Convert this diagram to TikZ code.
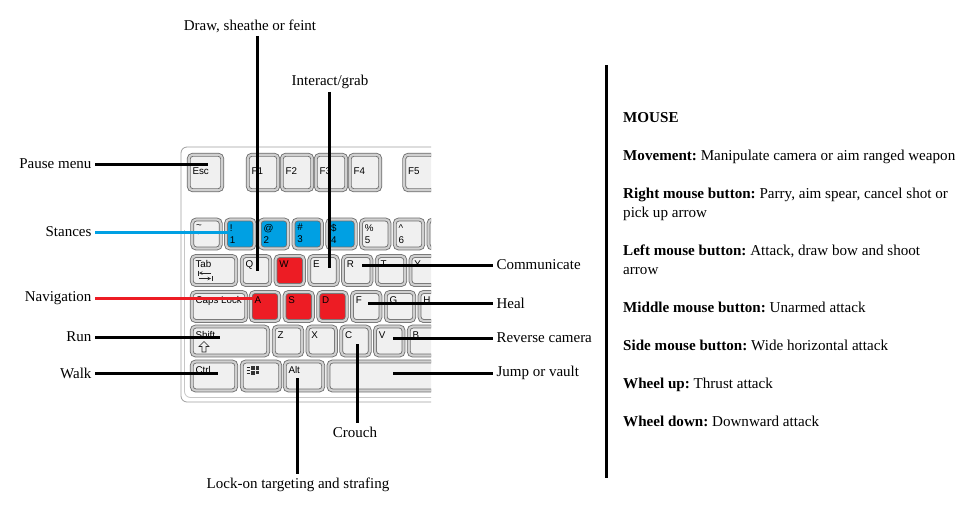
\documentclass[tikz,border=0pt]{standalone}
\usepackage{fontspec}
\setmainfont{Liberation Serif}
\newfontfamily\keyfont{Liberation Sans}
\usepackage{tikz}
\usetikzlibrary{shapes,arrows,positioning}
\frenchspacing

\definecolor{KeyBlue}{RGB}{0,160,227}
\definecolor{KeyRed}{RGB}{237,28,36}
\definecolor{KeyFace}{RGB}{240,240,240}
\definecolor{KeyEdge}{RGB}{110,110,110}
\definecolor{KeyBand}{RGB}{208,208,208}

\begin{document}
\begin{tikzpicture}[x=1pt, y=-1pt]
		\tikzstyle{Key}		= [rectangle, rounded corners=4pt, draw=KeyEdge, line width=0.85pt, double=KeyBand, double distance=2.1pt, fill=KeyFace, inner sep=0pt, minimum width=28.5pt, minimum height=29pt]
		\tikzstyle{Move}	= [fill=KeyRed]
		\tikzstyle{Stance}	= [fill=KeyBlue]
		\tikzstyle{KeyText}	= [anchor=north west, xshift=4pt, yshift=-5pt, inner sep=0pt, align=left, font=\keyfont\fontsize{9.8}{12}\selectfont]
		\tikzstyle{Low}		= [yshift=-8pt]
		\tikzstyle{Glyph}	= [line width=0.6pt, black!85]
		\tikzstyle{Frame}	= [draw=gray!75, line width=0.8pt, rounded corners=6pt]
		\tikzstyle{Callout}	= [line width=3pt, black]
		\tikzstyle{Label}	= [font=\fontsize{15}{19}\selectfont]
		\tikzstyle{Mouse}	= [anchor=base west, inner sep=0pt, font=\fontsize{15.1}{19}\selectfont]

		\useasboundingbox[fill=white] (0,0) rectangle (974,515);

		% keyboard, cut off on the right
		\begin{scope}
		\clip (170,140) rectangle (431,410);
		\draw[Frame] (181,147) rectangle (480,402);
		\draw[Frame, draw=gray!45] (184.5,230) |- (480,397.5);

		\node (kEsc) at (205.5, 172.5) [Key, minimum width=33.5pt, minimum height=35.5pt, label={[KeyText, Low]north west:Esc}] {};
		\node (kF1) at (263, 172.5) [Key, minimum width=30.5pt, minimum height=35.5pt, label={[KeyText, Low]north west:F1}] {};
		\node (kF2) at (297, 172.5) [Key, minimum width=30.5pt, minimum height=35.5pt, label={[KeyText, Low]north west:F2}] {};
		\node (kF3) at (331, 172.5) [Key, minimum width=30.5pt, minimum height=35.5pt, label={[KeyText, Low]north west:F3}] {};
		\node (kF4) at (365, 172.5) [Key, minimum width=30.5pt, minimum height=35.5pt, label={[KeyText, Low]north west:F4}] {};
		\node (kF5) at (419.5, 172.5) [Key, minimum width=30.5pt, minimum height=35.5pt, label={[KeyText, Low]north west:F5}] {};

		\node (kTilde) at (206.5, 234) [Key, label={[KeyText]north west:\textasciitilde\\\textasciigrave}] {};
		\node (k1) at (240.25, 234) [Key][Stance, label={[KeyText]north west:!\\1}] {};
		\node (k2) at (274, 234) [Key][Stance, label={[KeyText]north west:@\\2}] {};
		\node (k3) at (307.75, 234) [Key][Stance, label={[KeyText]north west:\#\\3}] {};
		\node (k4) at (341.5, 234) [Key][Stance, label={[KeyText]north west:\$\\4}] {};
		\node (k5) at (375.25, 234) [Key, label={[KeyText]north west:\%\\5}] {};
		\node (k6) at (409, 234) [Key, label={[KeyText]north west:\textasciicircum\\6}] {};
		\node (k7) at (442.75, 234) [Key] {};

		\node (kTab) at (214, 270.5) [Key, minimum width=44.5pt, label={[KeyText]north west:Tab}] {};
		\node (kQ) at (256, 270.5) [Key, label={[KeyText]north west:Q}] {};
		\node (kW) at (289.75, 270.5) [Key][Move, label={[KeyText]north west:W}] {};
		\node (kE) at (323.5, 270.5) [Key, label={[KeyText]north west:E}] {};
		\node (kR) at (357.25, 270.5) [Key, label={[KeyText]north west:R}] {};
		\node (kT) at (391, 270.5) [Key, label={[KeyText]north west:T}] {};
		\node (kY) at (424.75, 270.5) [Key, label={[KeyText]north west:Y}] {};

		\node (kCaps) at (219, 306.5) [Key, minimum width=54.5pt, label={[KeyText]north west:Caps Lock}] {};
		\node (kA) at (265, 306.5) [Key][Move, label={[KeyText]north west:A}] {};
		\node (kS) at (298.75, 306.5) [Key][Move, label={[KeyText]north west:S}] {};
		\node (kD) at (332.5, 306.5) [Key][Move, label={[KeyText]north west:D}] {};
		\node (kF) at (366.25, 306.5) [Key, label={[KeyText]north west:F}] {};
		\node (kG) at (400, 306.5) [Key, label={[KeyText]north west:G}] {};
		\node (kH) at (433.75, 306.5) [Key, label={[KeyText]north west:H}] {};

		\node (kShift) at (230, 341) [Key, minimum width=76.5pt, label={[KeyText]north west:Shift}] {};
		\node (kZ) at (288, 341) [Key, label={[KeyText]north west:Z}] {};
		\node (kX) at (321.75, 341) [Key, label={[KeyText]north west:X}] {};
		\node (kC) at (355.5, 341) [Key, label={[KeyText]north west:C}] {};
		\node (kV) at (389.25, 341) [Key, label={[KeyText]north west:V}] {};
		\node (kB) at (423, 341) [Key, label={[KeyText]north west:B}] {};

		\node (kCtrl) at (214, 376) [Key, minimum width=44.5pt, label={[KeyText]north west:Ctrl}] {};
		\node (kWin) at (261, 376) [Key, minimum width=38.5pt] {};
		\node (kAlt) at (304, 376) [Key, minimum width=38.5pt, label={[KeyText]north west:Alt}] {};
		\node (kSpace) at (443.5, 376) [Key, minimum width=230pt] {};

		% tab, shift and windows marks
		\draw[Glyph, -stealth] (211,273) -- (199,273);
		\draw[Glyph] (198,270.5) -- (198,275.5);
		\draw[Glyph, -stealth] (199,278.5) -- (211,278.5);
		\draw[Glyph] (212,276) -- (212,281);
		\draw[Glyph] (204,341.5) -- (199,346.5) -- (202,346.5) -- (202,352) -- (206,352) -- (206,346.5) -- (209,346.5) -- cycle;
		\fill[black!80] (251,366.4) rectangle (254.5,370);
		\fill[black!80] (255.5,366) rectangle (259,369.8);
		\fill[black!80] (251,371) rectangle (254.5,374.6);
		\fill[black!80] (255.5,370.8) rectangle (259,374.4);
		\draw[Glyph, line width=0.5pt] (246.5,367.5) -- (249.5,367.5) (246.5,370.5) -- (249.5,370.5) (246.5,373.5) -- (249.5,373.5);
		\end{scope}

		% where the callouts end on the keys
		\coordinate (pEsc) at (208,164);
		\coordinate (p1) at (228,232);
		\coordinate (pA) at (256,298);
		\coordinate (pShift) at (220,337);
		\coordinate (pCtrl) at (218,373);
		\coordinate (pQ) at (257,271);
		\coordinate (pE) at (329.5,268);
		\coordinate (pR) at (362,265.5);
		\coordinate (pF) at (368,303);
		\coordinate (pV) at (393,338);
		\coordinate (pSpace) at (393,373);
		\coordinate (pC) at (357,344);
		\coordinate (pAlt) at (297,378);

		\node (tPause) at (95,164) [Label, anchor=east] {Pause menu};
		\node (tStances) at (95,232) [Label, anchor=east] {Stances};
		\node (tNav) at (95,298) [Label, anchor=east] {Navigation};
		\node (tRun) at (95,337) [Label, anchor=east] {Run};
		\node (tWalk) at (95,373) [Label, anchor=east] {Walk};
		\node (tDraw) at (250,30) [Label, anchor=base] {Draw, sheathe or feint};
		\node (tGrab) at (330,85) [Label, anchor=base] {Interact/grab};
		\node (tTalk) at (493,265) [Label, anchor=west] {Communicate};
		\node (tHeal) at (493,303) [Label, anchor=west] {Heal};
		\node (tReverse) at (493,338) [Label, anchor=west] {Reverse camera};
		\node (tJump) at (493,373) [Label, anchor=west] {Jump or vault};
		\node (tCrouch) at (355,437) [Label, anchor=base] {Crouch};
		\node (tLock) at (298,488) [Label, anchor=base] {Lock-on targeting and strafing};

		\draw [-] (tPause) to (pEsc) [Callout];
		\draw [-] (tStances) to (p1) [Callout, KeyBlue];
		\draw [-] (tNav) to (pA) [Callout, KeyRed];
		\draw [-] (tRun) to (pShift) [Callout];
		\draw [-] (tWalk) to (pCtrl) [Callout];
		\draw [-] (tDraw.south -| pQ) to (pQ) [Callout];
		\draw [-] (tGrab.south -| pE) to (pE) [Callout];
		\draw [-] (pR) to (pR -| tTalk.west) [Callout];
		\draw [-] (pF) to (tHeal) [Callout];
		\draw [-] (pV) to (tReverse) [Callout];
		\draw [-] (pSpace) to (tJump) [Callout];
		\draw [-] (pC) to (pC |- tCrouch.north) [Callout];
		\draw [-] (pAlt) to (pAlt |- tLock.north) [Callout];

		% mouse column
		\coordinate (sTop) at (606,65);
		\coordinate (sBot) at (606,478);
		\draw [-] (sTop) to (sBot) [Callout];

		\node (mTitle) at (623,122) [Mouse] {\textbf{MOUSE}};
		\node (mMove) at (623,160) [Mouse] {\textbf{Movement:} Manipulate camera or aim ranged weapon};
		\node (mRight) at (623,198) [Mouse] {\textbf{Right mouse button:} Parry, aim spear, cancel shot or};
		\node (mRightB) at (623,217) [Mouse] {pick up arrow};
		\node (mLeft) at (623,255) [Mouse] {\textbf{Left mouse button:} Attack, draw bow and shoot};
		\node (mLeftB) at (623,274) [Mouse] {arrow};
		\node (mMiddle) at (623,312) [Mouse] {\textbf{Middle mouse button:} Unarmed attack};
		\node (mSide) at (623,350) [Mouse] {\textbf{Side mouse button:} Wide horizontal attack};
		\node (mUp) at (623,388) [Mouse] {\textbf{Wheel up:} Thrust attack};
		\node (mDown) at (623,426) [Mouse] {\textbf{Wheel down:} Downward attack};
	\end{tikzpicture}
\end{document}
